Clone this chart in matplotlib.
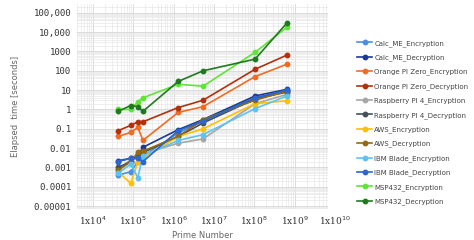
import math
import matplotlib
matplotlib.use("Agg")
import matplotlib.pyplot as plt
from matplotlib.ticker import LogLocator, NullFormatter
from matplotlib.transforms import offset_copy

# Prime numbers tested
primes = [42000, 87000, 130000, 174000, 1.3e6, 5.4e6, 1.05e8, 6.5e8]

calc_me_enc = [0.0004, 0.0006, 0.002, 0.004, 0.06, 0.25, 4, 9]
calc_me_dec = [0.0022, 0.003, 0.004, 0.011, 0.09, 0.3, 5, 11]
orange_enc = [0.04, 0.065, 0.12, 0.025, 0.7, 1.4, 50, 220]
orange_dec = [0.08, 0.15, 0.23, 0.23, 1.25, 3, 120, 650]
rpi_enc = [0.0008, 0.0025, 0.003, 0.005, 0.018, 0.03, 2, 6]
rpi_dec = [0.001, 0.002, 0.005, 0.006, 0.04, 0.2, 3.5, 8]
aws_enc = [0.0006, 0.00015, 0.002, 0.003, 0.04, 0.1, 2, 2.8]
aws_dec = [0.0007, 0.002, 0.006, 0.007, 0.04, 0.3, 3, 9]
ibm_enc = [0.0005, 0.0015, 0.0003, 0.004, 0.025, 0.05, 1.1, 5]
ibm_dec = [0.002, 0.003, 0.003, 0.002, 0.08, 0.25, 4, 10]
msp_enc = [1.0, 1.0, 2.5, 4, 20, 16, 900, 18000]
msp_dec = [0.8, 1.6, 1.4, 0.8, 28, 100, 400, 30000]

series = [
    ("Calc_ME_Encryption", calc_me_enc, "#4a8fe0"),
    ("Calc_ME_Decryption", calc_me_dec, "#1c3a94"),
    ("Orange PI Zero_Encryption", orange_enc, "#f26b21"),
    ("Orange PI Zero_Decryption", orange_dec, "#b2310d"),
    ("Raspberry PI 4_Encryption", rpi_enc, "#a6a6a6"),
    ("Raspberry PI 4_Decryption", rpi_dec, "#44505c"),
    ("AWS_Encryption", aws_enc, "#ffc000"),
    ("AWS_Decryption", aws_dec, "#946b0c"),
    ("IBM Blade_Encryption", ibm_enc, "#5ec3f2"),
    ("IBM Blade_Decryption", ibm_dec, "#2d66cc"),
    ("MSP432_Encryption", msp_enc, "#5ee636"),
    ("MSP432_Decryption", msp_dec, "#1f7a1f"),
]

y_ticks = [1e-5, 1e-4, 1e-3, 1e-2, 0.1, 1, 10, 100, 1000, 1e4, 1e5]
y_labels = ["0.00001", "0.0001", "0.001", "0.01", "0.1", "1", "10", "100",
            "1000", "10,000", "100,000"]
x_ticks = [1e4, 1e5, 1e6, 1e7, 1e8, 1e9]

fig = plt.figure(figsize=(4.74, 2.4), dpi=100)
ax = fig.add_axes([0.162, 0.129, 0.53, 0.854])

for name, vals, col in series:
    ax.plot(primes, vals, color=col, lw=1.2, marker="o", ms=3.2, label=name)

ax.set_xscale("log")
ax.set_yscale("log")
ax.set_xlim(10 ** 3.6, 10 ** 9.83)
ax.set_ylim(10 ** -5.15, 10 ** 5.45)

ax.set_yticks(y_ticks)
ax.set_yticklabels(y_labels, family="DejaVu Sans Mono", fontsize=6.5, color="#333333")
ax.set_xticks(x_ticks)
ax.set_xticklabels([f"1x10$^{{{round(math.log10(t))}}}$" for t in x_ticks],
                   family="DejaVu Serif", fontsize=6.5, color="#333333")
# last label sits past the plot edge in the original
ax.text(1e10, 0, "1x10$^{10}$",
        transform=offset_copy(ax.get_xaxis_transform(), fig=fig, y=-4, units="points"),
        ha="center", va="top", family="DejaVu Serif", fontsize=6.5, color="#333333")

ax.xaxis.set_minor_locator(LogLocator(base=10, subs=range(2, 10), numticks=20))
ax.yaxis.set_minor_locator(LogLocator(base=10, subs=range(2, 10), numticks=20))
ax.xaxis.set_minor_formatter(NullFormatter())
ax.yaxis.set_minor_formatter(NullFormatter())
ax.grid(True, which="major", color="#d6d6d6", lw=0.6)
ax.grid(True, which="minor", color="#e8e8e8", lw=0.5)
ax.set_axisbelow(True)
ax.tick_params(which="both", length=0, pad=4)
for s in ax.spines.values():
    s.set_visible(False)

ax.set_xlabel("Prime Number", fontsize=6, color="#666666", labelpad=3)
ax.set_ylabel("Elapsed  time [seconds]", fontsize=6, color="#666666", labelpad=10)

fig.legend(loc="center left", bbox_to_anchor=(0.74, 0.49), frameon=False,
           fontsize=5.0, handlelength=2.2, labelspacing=1.1, handletextpad=0.3,
           labelcolor="#444444")

fig.savefig("out.png", dpi=100)
